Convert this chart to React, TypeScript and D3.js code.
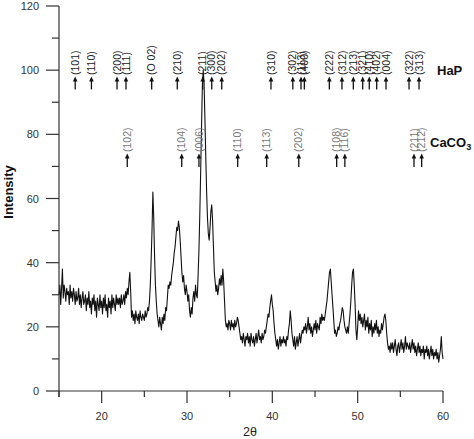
import React from "react";
import * as d3 from "d3";

const X_START = 15;
const X_STEP = 0.1;
// intensity sampled every 0.1° from 15.0 to 60.0
const intensity: number[] = [
  30, 33, 27, 32, 38, 29, 33, 31, 28, 32,
  30, 31, 27, 33, 29, 31, 28, 32, 30, 27,
  31, 28, 29, 32, 27, 30, 26, 29, 31, 27,
  28, 30, 25, 29, 27, 31, 26, 28, 24, 29,
  27, 30, 25, 28, 23, 29, 27, 25, 30, 26,
  28, 24, 29, 26, 30, 25, 27, 23, 29, 26,
  28, 24, 30, 26, 29, 27, 25, 30, 27, 29,
  27, 29, 26, 30, 27, 28, 30, 27, 31, 29,
  32, 30, 34, 37, 31, 23, 25, 22, 24, 21,
  25, 23, 22, 24, 21, 25, 23, 22, 24, 23,
  22, 25, 23, 24, 26, 25, 28, 33, 41, 50,
  62, 54, 42, 33, 28, 24, 22, 20, 23, 21,
  19, 23, 21, 24, 22, 26, 25, 29, 33, 32,
  34, 33, 36, 38, 40, 43, 45, 48, 51, 50,
  53, 51, 47, 42, 37, 34, 36, 32, 30, 33,
  31, 28, 30, 25, 23, 26, 24, 29, 31, 28,
  33, 30, 29, 36, 44, 55, 68, 82, 95, 100,
  96, 85, 73, 62, 54, 49, 47, 51, 56, 58,
  53, 45, 37, 34, 31, 33, 30, 32, 35, 33,
  36, 33, 38, 34, 28, 22, 20, 21, 19, 22,
  21, 19, 22, 20, 21, 19, 22, 20, 21, 23,
  22, 20, 18, 16, 17, 15, 18, 16, 14, 17,
  16, 18, 15, 17, 14, 18, 16, 15, 17, 14,
  16, 18, 15, 17, 19, 16, 17, 15, 18, 16,
  17, 19, 18, 20, 22, 24, 23, 26, 28, 30,
  27, 25, 21, 18, 16, 14, 16, 13, 15, 17,
  14, 16, 15, 17, 15, 16, 14, 17, 16, 19,
  21, 25, 22, 18, 16, 14, 17, 13, 15, 17,
  14, 16, 18, 15, 17, 19, 18, 20, 19, 21,
  18, 20, 23, 19, 21, 18, 20, 17, 19, 21,
  19, 22, 18, 21, 20, 19, 23, 21, 24, 22,
  23, 22, 24, 26, 28, 31, 34, 37, 38, 34,
  30, 26, 22, 18, 19, 17, 18, 20, 19, 21,
  22, 24, 26, 25, 22, 20, 19, 18, 20, 18,
  21, 24, 28, 33, 37, 38, 33, 27, 19, 16,
  20, 25, 22, 24, 21, 23, 20, 22, 24, 19,
  22, 20, 23, 18, 21, 19, 22, 17, 20, 18,
  21, 19, 22, 18, 20, 17, 19, 18, 21, 19,
  21, 23, 24, 22, 18, 15, 13, 14, 12, 15,
  13, 15, 12, 14, 16, 13, 11, 14, 15, 12,
  14, 16, 13, 15, 12, 14, 17, 13, 15, 14,
  13, 15, 12, 14, 16, 13, 15, 12, 14, 11,
  13, 15, 12, 14, 11, 13, 12, 14, 10, 13,
  12, 14, 11, 13, 10, 12, 14, 11, 13, 10,
  12, 11, 13, 10, 12, 9, 11, 13, 17, 12,
  10,
];

const hapPositions: number[] = [16.9, 18.8, 21.8, 22.85, 25.86, 28.86, 31.84, 32.9, 34.07, 39.84, 42.4, 43.36, 43.75, 46.68, 48.16, 49.49, 50.59, 51.36, 52.23, 53.32, 56.02, 57.19];
const hapLabels: string[] = ["(101)", "(110)", "(200)", "(111)", "(O 02)", "(210)", "(211)", "(300)", "(202)", "(310)", "(302)", "(113)", "(400)", "(222)", "(312)", "(213)", "(321)", "(410)", "(402)", "(004)", "(322)", "(313)"];
const caPositions: number[] = [23.0, 29.38, 31.4, 35.94, 39.34, 43.1, 47.54, 48.5, 56.6, 57.5];
const caLabels: string[] = ["(102)", "(104)", "(006)", "(110)", "(113)", "(202)", "(108)", "(116)", "(211)", "(212)"];

const yMajorTicks = [0, 20, 40, 60, 80, 100, 120];
const yMinorTicks = [10, 30, 50, 70, 90, 110];
const xMajorTicks = [20, 30, 40, 50, 60];
const xMinorTicks = [15, 25, 35, 45, 55];

const FONT = "'Liberation Sans', Arial, sans-serif";

export default function App() {
  const x = d3.scaleLinear().domain([15, 60]).range([59, 443]);
  const y = d3.scaleLinear().domain([0, 120]).range([391, 6]);
  const line = d3
    .line<number>()
    .x((_, i) => x(X_START + i * X_STEP))
    .y((d) => y(d));

  const axisColor = "#333";

  const arrow = (px: number, yHead: number, yTail: number, key: string) => (
    <g key={key}>
      <line x1={px} x2={px} y1={y(yTail)} y2={y(yHead) + 3} stroke="#111" strokeWidth={1.3} />
      <path d={`M${px},${y(yHead)} L${px - 2.3},${y(yHead) + 5} L${px + 2.3},${y(yHead) + 5} Z`} fill="#111" />
    </g>
  );

  return (
    <svg width={474} height={439} style={{ position: "absolute", left: 0, top: 0, background: "#fff" }} fontFamily={FONT}>
      <path d={line(intensity) || ""} fill="none" stroke="#111" strokeWidth={1.1} strokeLinejoin="round" />

      {/* y axis */}
      <line x1={x(15)} x2={x(15)} y1={y(120)} y2={y(0) + 6} stroke={axisColor} strokeWidth={1.2} />
      {yMajorTicks.map((t) => (
        <g key={"ym" + t}>
          <line x1={x(15) - 13} x2={x(15)} y1={y(t)} y2={y(t)} stroke={axisColor} strokeWidth={1.2} />
          <text x={39} y={y(t) + 4} fontSize={11} textAnchor="end" fill="#333">{t}</text>
        </g>
      ))}
      {yMinorTicks.map((t) => (
        <line key={"yn" + t} x1={x(15) - 7} x2={x(15)} y1={y(t)} y2={y(t)} stroke={axisColor} strokeWidth={1.2} />
      ))}

      {/* x axis */}
      <line x1={x(15)} x2={x(60)} y1={y(0)} y2={y(0)} stroke={axisColor} strokeWidth={1.2} />
      {xMajorTicks.map((t) => (
        <g key={"xm" + t}>
          <line x1={x(t)} x2={x(t)} y1={y(0)} y2={y(0) + 12} stroke={axisColor} strokeWidth={1.2} />
          <text x={x(t)} y={420} fontSize={11} textAnchor="middle" fill="#333">{t}</text>
        </g>
      ))}
      {xMinorTicks.map((t) => (
        <line key={"xn" + t} x1={x(t)} x2={x(t)} y1={y(0)} y2={y(0) + 6} stroke={axisColor} strokeWidth={1.2} />
      ))}

      <text x={250} y={436} fontSize={12.5} textAnchor="middle" fill="#222">2θ</text>
      <text transform={`translate(13,192) rotate(-90)`} fontSize={13} fontWeight="bold" textAnchor="middle" fill="#111">Intensity</text>

      {/* HaP annotations */}
      {hapPositions.map((p, i) => (
        <g key={"h" + i}>
          {arrow(x(p), 98, 94, "ha" + i)}
          <text transform={`translate(${x(p) + 3.6},75) rotate(-90)`} fontSize={10.5} fill="#222">{hapLabels[i]}</text>
        </g>
      ))}
      <text x={437} y={75} fontSize={13} fontWeight="bold" fill="#111">HaP</text>

      {/* CaCO3 annotations */}
      {caPositions.map((p, i) => (
        <g key={"c" + i}>
          {arrow(x(p), 74, 69.8, "ca" + i)}
          <text transform={`translate(${x(p) + 3.6},152) rotate(-90)`} fontSize={10.5} fill="#777">{caLabels[i]}</text>
        </g>
      ))}
      <text x={430} y={147} fontSize={13} fontWeight="bold" fill="#111">
        CaCO<tspan fontSize={9} dy={3}>3</tspan>
      </text>
    </svg>
  );
}
